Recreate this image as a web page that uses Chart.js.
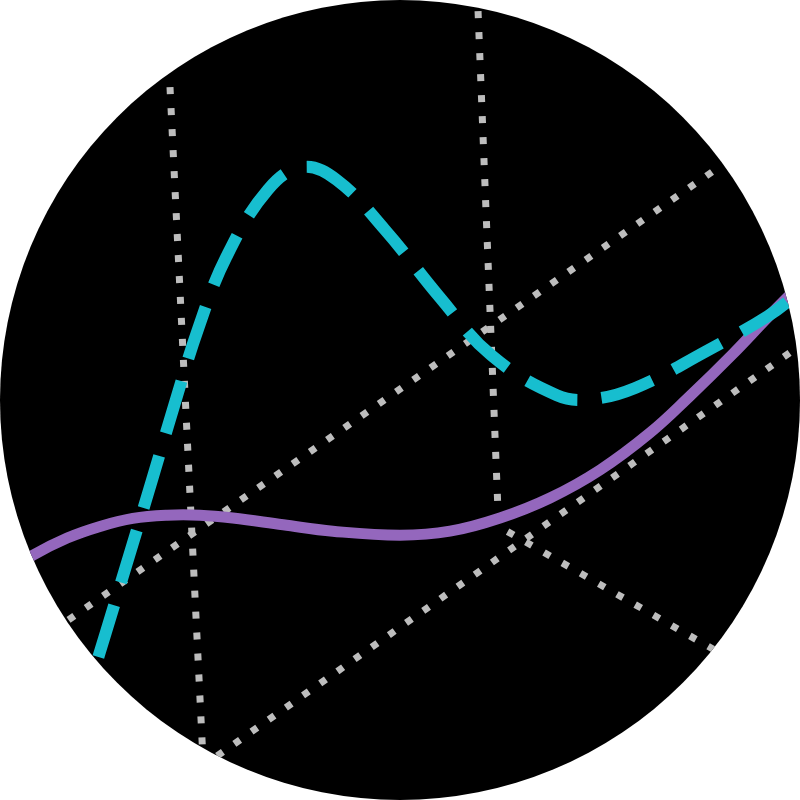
<!DOCTYPE html>
<html>
<head>
<meta charset="utf-8">
<script src="https://cdn.jsdelivr.net/npm/chart.js@4.4.1/dist/chart.umd.min.js"></script>
<style>
  html, body { margin: 0; padding: 0; background: #fff; }
  #wrap { width: 800px; height: 800px; }
</style>
</head>
<body>
<div id="wrap"><canvas id="chart"></canvas></div>
<script>
/* DATA (axis units 0..100 on both axes) */
const cyanX = [11.6, 13.25, 16.1, 19.0, 21.75, 24.8, 28.3, 33.5, 37.8, 42.1, 48.1, 55.0, 61.4, 69.6, 73.8, 79.4, 88.1, 96.0, 100];
const cyanY = [15.6, 21.0, 30.4, 40.0, 49.25, 59.0, 67.9, 76.3, 79.1, 77.5, 71.3, 62.8, 55.6, 50.6, 50.1, 51.5, 56.0, 60.5, 63.5];

const purpleX = [2.5, 4.1, 8.4, 12.5, 16.6, 20.9, 25.0, 29.1, 35.4, 41.6, 50.0, 56.25, 62.5, 68.75, 75.0, 81.25, 86.25, 91.6, 95.9, 100];
const purpleY = [29.4, 30.6, 32.75, 34.2, 35.2, 35.6, 35.6, 35.25, 34.4, 33.6, 33.1, 33.6, 35.25, 37.75, 41.25, 45.9, 50.5, 55.75, 60.25, 64.4];

// dotted guide lines, each as [start, end]
const guideAX = [21.25, 25.5];
const guideAY = [89.1, 2.5];
const guideBX = [62.2, 59.7];
const guideBY = [37.4, 100];
const guideCX = [89.0, 6.25];
const guideCY = [78.5, 20.9];
const guideDX = [25.0, 100];
const guideDY = [4.0, 56.8];
const guideEX = [63.45, 95.0];
const guideEY = [33.55, 15.5];

/* HELPERS */
const pts = (xs, ys) => xs.map((x, i) => ({ x, y: ys[i] }));

const guide = (xs, ys) => ({
  data: pts(xs, ys),
  borderColor: "#bdbdbd",
  borderWidth: 7,
  borderDash: [7, 14],
  borderCapStyle: "butt",
  pointRadius: 0,
  showLine: true,
  tension: 0,
  order: 2,
});

/* ROUND FACE: black disc + clip for all lines */
const roundFace = {
  id: "roundFace",
  beforeDatasetsDraw(chart) {
    const { ctx, chartArea: a } = chart;
    const cx = (a.left + a.right) / 2;
    const cy = (a.top + a.bottom) / 2;
    const r = Math.min(a.width, a.height) / 2;
    ctx.save();
    ctx.beginPath();
    ctx.arc(cx, cy, r, 0, Math.PI * 2);
    ctx.fillStyle = "#000";
    ctx.fill();
    ctx.clip();
  },
  afterDatasetsDraw(chart) {
    chart.ctx.restore();
  },
};

/* CHART */
new Chart(document.getElementById("chart"), {
  type: "scatter",
  data: {
    datasets: [
      {
        data: pts(cyanX, cyanY),
        borderColor: "#17becf",
        borderWidth: 12,
        borderDash: [54, 24],
        borderDashOffset: 59,
        borderCapStyle: "butt",
        pointRadius: 0,
        showLine: true,
        tension: 0.4,
        order: 0,
      },
      {
        data: pts(purpleX, purpleY),
        borderColor: "#9467bd",
        borderWidth: 11,
        pointRadius: 0,
        showLine: true,
        tension: 0.4,
        order: 1,
      },
      guide(guideAX, guideAY),
      guide(guideBX, guideBY),
      guide(guideCX, guideCY),
      guide(guideDX, guideDY),
      guide(guideEX, guideEY),
    ],
  },
  options: {
    responsive: true,
    maintainAspectRatio: false,
    animation: false,
    layout: { padding: 0 },
    plugins: { legend: { display: false }, tooltip: { enabled: false } },
    scales: {
      x: { type: "linear", min: 0, max: 100, display: false },
      y: { type: "linear", min: 0, max: 100, display: false },
    },
  },
  plugins: [roundFace],
});
</script>
</body>
</html>
